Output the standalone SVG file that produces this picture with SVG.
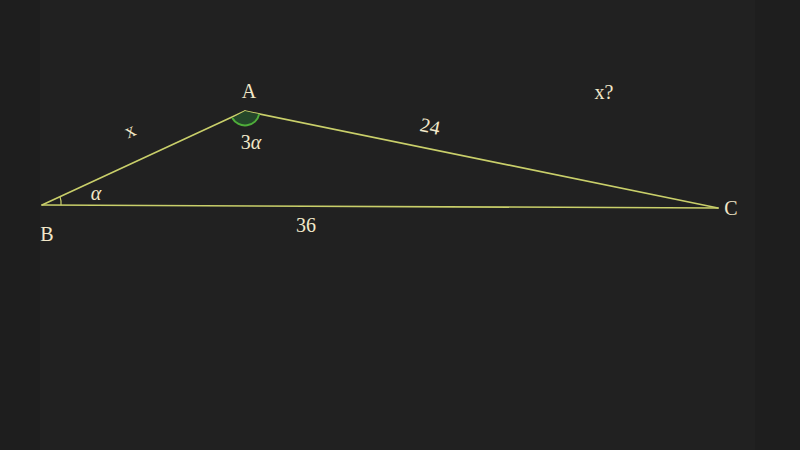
<svg xmlns="http://www.w3.org/2000/svg" width="800" height="450" viewBox="0 0 800 450">
<style>
.bg{fill:#212121}
.edge{fill:#1e1e1e}
.side{stroke:#c9cf6a;stroke-width:1.6;fill:none;stroke-linecap:round}
.lbl{fill:#f2e8c9;font-family:"Liberation Serif","DejaVu Serif",serif;font-size:20px}
.it{font-style:italic}
</style>
<rect class="bg" x="0" y="0" width="800" height="450"/>
<rect class="edge" x="0" y="0" width="40" height="450"/>
<rect class="edge" x="755" y="0" width="45" height="450"/>
<g id="connectors">
<line class="side" x1="42" y1="205" x2="245" y2="111"/>
<line class="side" x1="245" y1="111" x2="718" y2="208"/>
<line class="side" x1="42" y1="205" x2="718" y2="208"/>
</g>
<g id="angleA">
<path d="M245 111 L232.3 117.9 A14.5 14.5 0 0 0 259.2 114.1 Z" fill="#24472a" stroke="none"/>
<path d="M232.3 117.9 A14.5 14.5 0 0 0 259.2 114.1" fill="none" stroke="#4fae3a" stroke-width="2"/>
</g>
<g id="angleB">
<path d="M60 196.7 A19 19 0 0 1 61 205.1" fill="none" stroke="#c9cf6a" stroke-width="1.2"/>
</g>
<g id="nodeA"><text class="lbl" x="249" y="98" text-anchor="middle">A</text></g>
<g id="nodeB"><text class="lbl" x="47" y="241" text-anchor="middle">B</text></g>
<g id="nodeC"><text class="lbl" x="731" y="215" text-anchor="middle">C</text></g>
<g id="labels">
<text class="lbl" x="130" y="137" text-anchor="middle" transform="rotate(-25 130 131)">x</text>
<text class="lbl" x="430" y="133" text-anchor="middle" transform="rotate(11.6 430 127)">24</text>
<text class="lbl" x="306" y="232" text-anchor="middle">36</text>
<text class="lbl" x="251" y="149" text-anchor="middle">3<tspan class="it">α</tspan></text>
<text class="lbl it" x="96" y="200" text-anchor="middle">α</text>
<text class="lbl" x="604" y="99" text-anchor="middle">x?</text>
</g>
</svg>
